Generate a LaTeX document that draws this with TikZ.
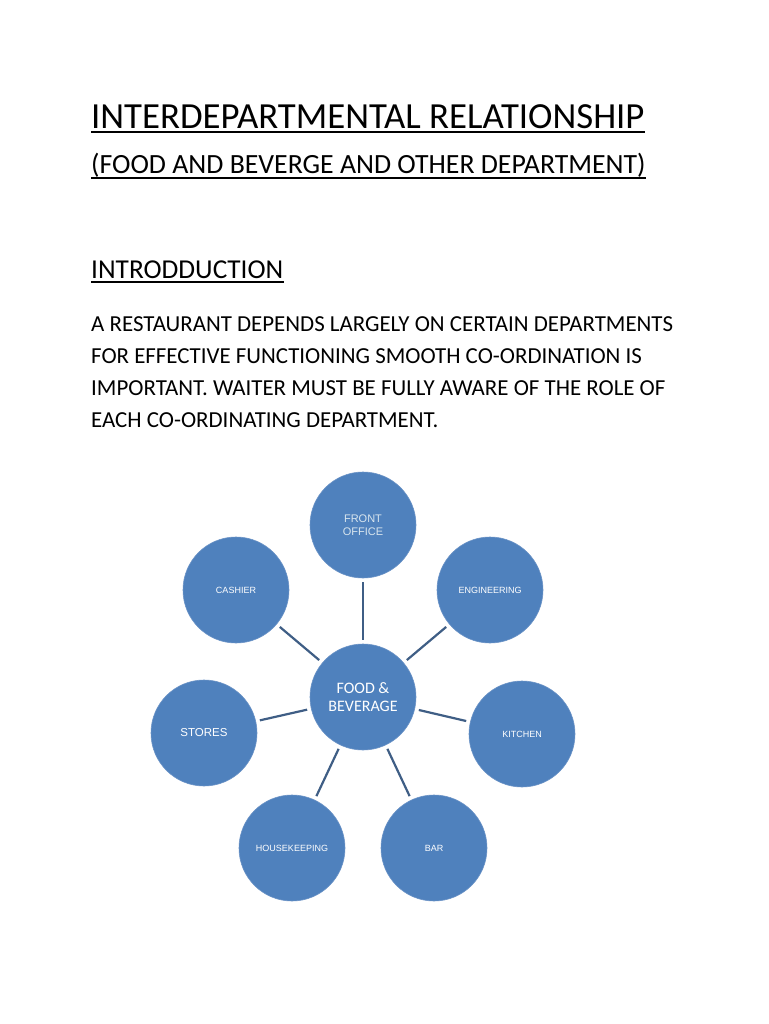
\documentclass[tikz,border=0pt]{standalone}
\usepackage{fontspec}
\setmainfont{Carlito}
\newfontfamily\arialfont{Liberation Sans}
\usepackage{tikz}
\usetikzlibrary{positioning,calc}

\definecolor{fbblue}{HTML}{4F81BD}
\definecolor{fbedge}{HTML}{6B93C6}
\definecolor{fbline}{HTML}{3F5E85}
\definecolor{folabel}{HTML}{D8E5EE}

\begin{document}
\begin{tikzpicture}[x=1pt,y=-1pt]
            \tikzstyle{circ}=[circle, draw=fbedge, fill=fbblue, line width=0.6pt, inner sep=0pt, minimum size=106pt, text=white, align=center, font=\arialfont\fontsize{9}{11}\selectfont]
            \tikzstyle{txt}=[anchor=base west, inner sep=0pt]
            \tikzstyle{link}=[draw=fbline, line width=2.2pt, shorten >=4pt, shorten <=4pt]

            \useasboundingbox (0,0) rectangle (768,1024);

            % headings
            \node[txt, font=\fontsize{36.8}{44}\selectfont] (title) at (91,129) {INTERDEPARTMENTAL RELATIONSHIP\ };
            \node[txt, font=\fontsize{27.8}{34}\selectfont] (sub) at (91,174) {(FOOD AND BEVERGE AND OTHER DEPARTMENT)};
            \node[txt, font=\fontsize{27.3}{33}\selectfont] (intro) at (91,278) {INTRODDUCTION\ };
            \draw[line width=1.3pt] ([yshift=-3pt]title.base west) -- ([yshift=-3pt]title.base east);
            \draw[line width=1.1pt] ([yshift=-4pt]sub.base west) -- ([yshift=-4pt]sub.base east);
            \draw[line width=1.1pt] ([yshift=-4pt]intro.base west) -- ([yshift=-4pt]intro.base east);

            \node[txt, font=\fontsize{22.9}{30}\selectfont] (l1) at (91,331) {A RESTAURANT DEPENDS LARGELY ON CERTAIN DEPARTMENTS};
            \node[txt, font=\fontsize{22.9}{30}\selectfont] (l2) at (91,363) {FOR EFFECTIVE FUNCTIONING SMOOTH CO-ORDINATION IS};
            \node[txt, font=\fontsize{22.9}{30}\selectfont] (l3) at (91,395) {IMPORTANT. WAITER MUST BE FULLY AWARE OF THE ROLE OF};
            \node[txt, font=\fontsize{22.9}{30}\selectfont] (l4) at (91,427) {EACH CO-ORDINATING DEPARTMENT.};

            % departments
            \node[circ, font=\fontsize{16}{18.5}\selectfont] (fb) at (363,697) {FOOD \&\\BEVERAGE};
            \node[circ, text=folabel, font=\arialfont\fontsize{11}{12.5}\selectfont] (fo) at (363,525) {FRONT\\OFFICE};
            \node[circ] (cash) at (236,590) {CASHIER};
            \node[circ] (eng) at (490,590) {ENGINEERING};
            \node[circ, font=\arialfont\fontsize{11.5}{13}\selectfont] (store) at (204,733) {STORES};
            \node[circ] (kit) at (522,734) {KITCHEN};
            \node[circ] (hk) at (292,848) {HOUSEKEEPING};
            \node[circ] (bar) at (434,848) {BAR};

            \path[link] (fb) -- (fo);
            \path[link] (fb) -- (cash);
            \path[link] (fb) -- (eng);
            \path[link] (fb) -- (store);
            \path[link] (fb) -- (kit);
            \path[link] (fb) -- (hk);
            \path[link] (fb) -- (bar);
        \end{tikzpicture}
\end{document}
